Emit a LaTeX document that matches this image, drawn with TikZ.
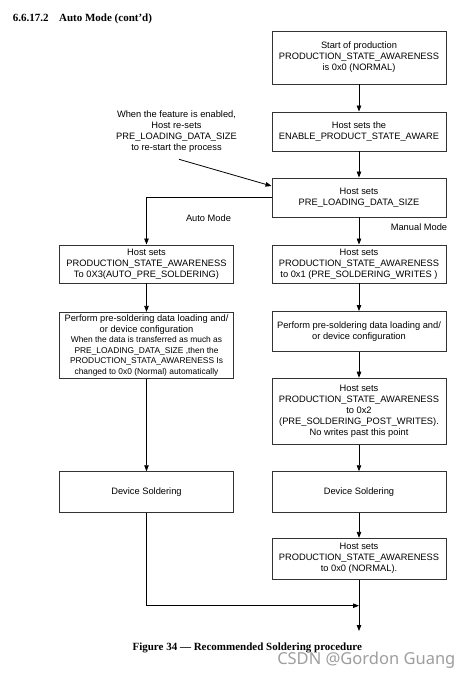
\documentclass[tikz,border=0pt]{standalone}
\usepackage{fontspec}
\setmainfont{Liberation Serif}
\setsansfont{Liberation Sans}
\newfontfamily\wmfont{Noto Sans}
\usetikzlibrary{arrows.meta}
\begin{document}
\begin{tikzpicture}[x=1pt,y=-1pt,
  box/.style={draw=black!80, line width=0.9pt, minimum width=174pt, inner sep=0pt, align=center, font=\sffamily\fontsize{9.3}{11}\selectfont},
  lbl/.style={font=\sffamily\fontsize{9.3}{11}\selectfont, inner sep=0pt, align=center},
  arr/.style={-{Triangle[length=6pt,width=4.5pt]}, line width=0.8pt},
  small/.style={}]
\fill[white] (0,0) rectangle (471,686);
\useasboundingbox (0,0) rectangle (471,686);

\node[anchor=base west, inner sep=0pt, font=\bfseries\fontsize{11}{13}\selectfont] (title) at (12.7,21) {6.6.17.2\hspace*{10.5pt}Auto Mode (cont’d)};

% right column
\node[box, minimum height=53pt] (R1) at (359,57.5) {Start of production\\PRODUCTION\_STATE\_AWARENESS\\is 0x0 (NORMAL)};
\node[box, minimum height=39pt] (R2) at (359,131.5) {Host sets the\\ENABLE\_PRODUCT\_STATE\_AWARE};
\node[box, minimum height=39pt] (R3) at (359,197.5) {Host sets\\PRE\_LOADING\_DATA\_SIZE};
\node[box, minimum height=38pt] (R4) at (359,264) {Host sets\\PRODUCTION\_STATE\_AWARENESS\\to 0x1 (PRE\_SOLDERING\_WRITES )};
\node[box, minimum height=40pt] (R5) at (359,331.5) {Perform pre-soldering data loading and/\\or device configuration};
\node[box, minimum height=66.7pt] (R6) at (359,411.5) {Host sets\\PRODUCTION\_STATE\_AWARENESS\\to 0x2\\(PRE\_SOLDERING\_POST\_WRITES).\\No writes past this point};
\node[box, minimum height=40.6pt] (R7) at (359,492) {Device Soldering};
\node[box, minimum height=40.7pt] (R8) at (359,558.7) {Host sets\\PRODUCTION\_STATE\_AWARENESS\\to 0x0 (NORMAL).};

% left column
\node[box, minimum height=38pt] (L1) at (146.5,264) {Host sets\\PRODUCTION\_STATE\_AWARENESS\\To 0X3(AUTO\_PRE\_SOLDERING)};
\node[box, minimum height=66pt] (L2) at (146.5,345.3) {Perform pre-soldering data loading and/\\or device configuration\\[-0.5pt]{\fontsize{8.4}{10.5}\selectfont When the data is transferred as much as}\\[-0.5pt]{\fontsize{8.4}{10.5}\selectfont PRE\_LOADING\_DATA\_SIZE ,then the}\\[-0.5pt]{\fontsize{8.4}{10.5}\selectfont PRODUCTION\_STATA\_AWARENESS Is}\\[-0.5pt]{\fontsize{8.4}{10.5}\selectfont changed to 0x0 (Normal) automatically}};
\node[box, minimum height=40.6pt] (L3) at (146.5,492) {Device Soldering};

% labels
\node[lbl] (note) at (176.5,131.2) {When the feature is enabled,\\Host re-sets\\PRE\_LOADING\_DATA\_SIZE\\to re-start the process};
\node[lbl] (auto) at (208.5,217.7) {Auto Mode};
\node[lbl] (manual) at (419,226.7) {Manual Mode};

\coordinate (a0) at (179,159.3);
\coordinate (m) at (359,605.7);
\coordinate (e) at (359,631);

% connectors
\draw[arr] (R1.south) -- (R2.north);
\draw[arr] (R2.south) -- (R3.north);
\draw[arr] (a0) -- ([yshift=11.5pt]R3.west);
\draw[arr] (R3.west) -| (L1.north);
\draw[arr] (R3.south) -- (R4.north);
\draw[arr] (R4.south) -- (R5.north);
\draw[arr] (R5.south) -- (R6.north);
\draw[arr] (R6.south) -- (R7.north);
\draw[arr] (R7.south) -- (R8.north);
\draw[arr] (L1.south) -- (L2.north);
\draw[arr] (L2.south) -- (L3.north);
\draw[arr] (L3.south) |- (m);
\draw[arr] (R8.south) -- (e);

\node[anchor=base, inner sep=0pt, font=\bfseries\fontsize{11}{13}\selectfont] (caption) at (247.3,650.7) {Figure 34 — Recommended Soldering procedure};
\node[inner sep=0pt, text=black!38, font=\wmfont\fontsize{16.5}{18}\selectfont] (wm) at (366.3,660) {CSDN @Gordon Guang};
\end{tikzpicture}
\end{document}
